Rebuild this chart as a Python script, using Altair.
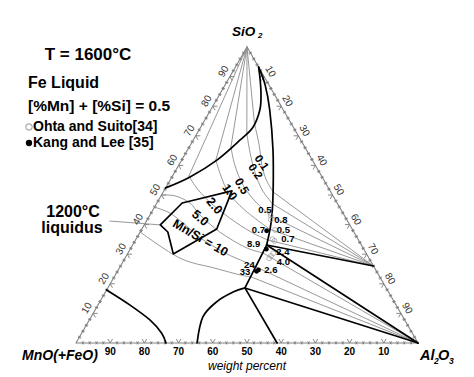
import altair as alt
import pandas as pd
import numpy as np

# ---------------- data (wt%) ----------------
# phase boundaries at 1600 C, given as (SiO2, Al2O3) wt%; MnO = rest
silica_liq_SiO2 = [52.4, 56.1, 61.8, 68.6, 73.0, 78.7, 83.8, 88.9, 93.2]
silica_liq_Al2O3 = [0.0, 5.3, 10.3, 13.7, 15.3, 14.4, 12.2, 9.4, 6.8]
mullite_liq_SiO2 = [93.2, 87.2, 78.7, 65.2, 51.7, 43.2, 38.2, 33.1]
mullite_liq_Al2O3 = [6.8, 11.7, 17.3, 25.0, 31.8, 35.7, 37.6, 39.2]
alumina_liq_SiO2 = [33.1, 18.6]
alumina_liq_Al2O3 = [39.2, 40.1]
galaxite_liq_SiO2 = [18.6, 17.2, 14.0, 8.8, 0.0]
galaxite_liq_Al2O3 = [40.1, 37.3, 34.2, 32.7, 35.4]
mno_liq_SiO2 = [17.9, 12.8, 7.8, 3.4, 0.0]
mno_liq_Al2O3 = [0.0, 9.4, 17.7, 23.3, 26.3]

# solid phases (SiO2, Al2O3)
solids = {"SiO2": (100.0, 0.0), "mullite": (26.0, 74.0),
          "Al2O3": (0.0, 100.0), "galaxite": (0.0, 58.8)}
# three-phase triangle edges: liquid corner -> solid
tri_liq_SiO2 = [33.1, 33.1, 18.6, 18.6]
tri_liq_Al2O3 = [39.2, 39.2, 40.1, 40.1]
tri_solid = ["mullite", "Al2O3", "Al2O3", "galaxite"]

# 1200 C liquidus outline
liq1200_SiO2 = [47.3, 51.4, 38.5, 30.1, 37.5, 39.9, 47.3]
liq1200_Al2O3 = [7.4, 19.9, 21.9, 13.4, 8.1, 4.7, 7.4]
pointer_SiO2 = [41.2, 39.9]
pointer_Al2O3 = [-10.7, 4.7]

# iso Mn/Si curves (liquid part) and their tie lines
iso_names = ["0.1", "0.2", "0.5", "1.0", "2.0", "5.0", "10", "30"]
iso_SiO2 = [
    [74.0, 66.9, 60.1, 55.1, 51.0],
    [70.9, 64.5, 57.8, 51.7, 47.0],
    [66.2, 60.1, 53.4, 48.0, 42.9],
    [61.8, 56.4, 50.7, 44.9, 38.5],
    [56.4, 51.7, 46.6, 40.9, 36.8, 34.8],
    [50.0, 49.7, 47.3, 43.2, 37.5, 32.4, 30.4],
    [45.9, 43.9, 39.9, 35.5, 30.4, 27.4, 25.7],
    [37.5, 28.7, 25.3, 23.0, 22.3],
]
iso_Al2O3 = [
    [15.2, 20.1, 24.3, 28.1, 32.2],
    [14.5, 18.6, 23.4, 28.6, 34.0],
    [12.2, 16.4, 22.1, 28.3, 35.5],
    [10.0, 14.2, 19.3, 26.9, 37.3],
    [4.8, 9.9, 16.8, 26.1, 33.9, 38.7],
    [0.0, 4.1, 9.7, 14.7, 23.3, 33.2, 39.5],
    [0.0, 5.5, 12.0, 18.6, 28.4, 35.7, 39.8],
    [0.0, 16.0, 27.9, 36.5, 40.1],
]
iso_start = ["SiO2", "SiO2", "SiO2", "SiO2", "SiO2", "", "", ""]
iso_end = ["mullite", "mullite", "mullite", "mullite", "mullite", "Al2O3", "Al2O3", "Al2O3"]

# curve labels
clab_text = ["0.1", "0.2", "0.5", "1.0", "2.0", "5.0", "Mn/Si = 10"]
clab_SiO2 = [60.8, 57.8, 53.0, 51.0, 46.3, 42.2, 35.5]
clab_Al2O3 = [23.7, 23.4, 22.0, 19.5, 17.3, 15.2, 18.6]
clab_angle = [55, 55, 60, 55, 50, 40, 30]
clab_size = [11.5, 11.5, 12, 12, 12.5, 12.5, 12.5]

# measured slags
ohta_SiO2 = [43.2, 41.7, 38.2, 35.1, 34.5, 30.3, 29.4, 28.6]
ohta_Al2O3 = [35.3, 36.1, 39.1, 39.9, 40.8, 42.5, 42.3, 42.2]
kang_SiO2 = [37.9, 31.7, 24.7, 24.2]
kang_Al2O3 = [36.8, 39.8, 41.0, 40.7]
plab_text = ["0.5", "0.8", "0.7", "0.5", "0.7", "8.9", "2.4", "4.0", "2.6", "24", "33"]
plab_SiO2 = [44.9, 41.6, 38.3, 38.3, 35.3, 33.3, 30.6, 27.5, 24.8, 26.4, 24.0]
plab_Al2O3 = [32.8, 39.1, 34.2, 41.5, 44.3, 35.3, 45.2, 46.9, 44.6, 37.5, 37.4]

tick_labels = [10, 20, 30, 40, 50, 60, 70, 80, 90]

# ---------------- helpers ----------------
S3 = np.sqrt(3) / 2
FONT = "Liberation Sans"
OX, OY = 76, 47


def to_xy(df):
    df = df.copy()
    df["X"] = df["Al2O3"] + df["SiO2"] / 2
    df["Y"] = df["SiO2"] * S3
    return df


def path_df(groups):
    rows = []
    for g, (s, a) in groups.items():
        for i, (si, al) in enumerate(zip(s, a)):
            rows.append({"g": g, "o": i, "SiO2": si, "Al2O3": al})
    return to_xy(pd.DataFrame(rows))


xs = alt.Scale(domain=[0, 100], nice=False, zero=False)
ys = alt.Scale(domain=[0, 100 * S3], nice=False, zero=False)
X = alt.X("X:Q", scale=xs, axis=None)
Y = alt.Y("Y:Q", scale=ys, axis=None)


def lines(df, color, width, interp="linear"):
    return alt.Chart(df).mark_line(color=color, strokeWidth=width, interpolate=interp,
                                   strokeCap="round", strokeJoin="round").encode(
        x=X, y=Y, detail="g:N", order="o:Q")


def note(text, px, py, size, weight="bold", style="normal", align="left", color="black"):
    return alt.Chart(pd.DataFrame({"t": [text]})).mark_text(
        font=FONT, fontSize=size, fontWeight=weight, fontStyle=style, align=align,
        baseline="middle", color=color).encode(
        x=alt.value(px - OX), y=alt.value(py - OY), text="t:N")


# ---------------- frame and ticks ----------------
frame = path_df({"f": ([0, 100, 0, 0], [0, 0, 100, 0])})

trows = []
for v in range(2, 100, 2):
    major = v % 10 == 0
    bases = [((v, 0.0), [(0.5, S3), (-0.5, S3)]),
             ((v / 2, v * S3), [(1.0, 0.0), (0.5, -S3)]),
             ((100 - v / 2, v * S3), [(-1.0, 0.0), (-0.5, -S3)])]
    for (bx, by), dirs in bases:
        for dx, dy in dirs:
            if major:
                a, b = 0.0, 1.35
            else:
                a, b = -0.45, 0.55
            trows.append({"X": bx + a * dx, "Y": by + a * dy,
                          "X2": bx + b * dx, "Y2": by + b * dy})
ticks = alt.Chart(pd.DataFrame(trows)).mark_rule(color="#7a7a7a", strokeWidth=0.9).encode(
    x=X, y=Y, x2="X2:Q", y2="Y2:Q")

lrows = []
for v in tick_labels:
    lrows.append({"t": str(v), "X": 100 - v, "Y": -2.7, "ang": 0, "side": "b"})
    lrows.append({"t": str(v), "X": v / 2 - 1.8, "Y": v * S3 + 1.5, "ang": 300, "side": "l"})
    lrows.append({"t": str(v), "X": 50 + v / 2 + 1.8, "Y": (100 - v) * S3 + 1.5, "ang": 60, "side": "r"})
ldf = pd.DataFrame(lrows)
bottom_lab = alt.Chart(ldf[ldf.side == "b"]).mark_text(
    font=FONT, fontSize=10, fontWeight="bold", baseline="middle", color="black").encode(
    x=X, y=Y, text="t:N")
side_lab = alt.Chart(ldf[ldf.side != "b"]).mark_text(
    font=FONT, fontSize=10, baseline="middle", color="#333").encode(
    x=X, y=Y, text="t:N", angle=alt.Angle("ang:Q", scale=None))

# ---------------- iso curves ----------------
curve_groups = {n: (s, a) for n, s, a in zip(iso_names, iso_SiO2, iso_Al2O3)}
iso_curves = lines(path_df(curve_groups), "#8c8c8c", 0.9, "cardinal")
tie_groups = {}
for n, s, a, st, en in zip(iso_names, iso_SiO2, iso_Al2O3, iso_start, iso_end):
    if st:
        tie_groups[n + "s"] = ([solids[st][0], s[0]], [solids[st][1], a[0]])
    if en:
        tie_groups[n + "e"] = ([s[-1], solids[en][0]], [a[-1], solids[en][1]])
iso_ties = lines(path_df(tie_groups), "#8c8c8c", 0.9)
pointer = lines(path_df({"p": (pointer_SiO2, pointer_Al2O3)}), "#8c8c8c", 0.9)

# ---------------- phase boundaries ----------------
bcurves = lines(path_df({
    "sil": (silica_liq_SiO2, silica_liq_Al2O3),
    "mul": (mullite_liq_SiO2, mullite_liq_Al2O3),
    "gal": (galaxite_liq_SiO2, galaxite_liq_Al2O3),
    "mno": (mno_liq_SiO2, mno_liq_Al2O3)}), "black", 1.7, "cardinal")
straight = {"alu": (alumina_liq_SiO2, alumina_liq_Al2O3),
            "l1200": (liq1200_SiO2, liq1200_Al2O3)}
for i, (s, a, so) in enumerate(zip(tri_liq_SiO2, tri_liq_Al2O3, tri_solid)):
    straight["t%d" % i] = ([s, solids[so][0]], [a, solids[so][1]])
blines = lines(path_df(straight), "black", 1.7)

# ---------------- labels on curves ----------------
cl = to_xy(pd.DataFrame({"t": clab_text, "SiO2": clab_SiO2, "Al2O3": clab_Al2O3,
                         "ang": clab_angle, "fs": clab_size}))
curve_lab = alt.Chart(cl).mark_text(font=FONT, fontWeight="bold", baseline="middle",
                                    color="black").encode(
    x=X, y=Y, text="t:N", angle=alt.Angle("ang:Q", scale=None),
    size=alt.Size("fs:Q", scale=None))

# ---------------- data points ----------------
ohta = alt.Chart(to_xy(pd.DataFrame({"SiO2": ohta_SiO2, "Al2O3": ohta_Al2O3}))).mark_point(
    shape="circle", filled=False, color="#9a9a9a", strokeWidth=1, size=24).encode(x=X, y=Y)
kang = alt.Chart(to_xy(pd.DataFrame({"SiO2": kang_SiO2, "Al2O3": kang_Al2O3}))).mark_point(
    shape="circle", filled=True, color="black", opacity=1, size=24).encode(x=X, y=Y)
pl = to_xy(pd.DataFrame({"t": plab_text, "SiO2": plab_SiO2, "Al2O3": plab_Al2O3}))
point_lab = alt.Chart(pl).mark_text(font=FONT, fontSize=9.5, fontWeight="bold",
                                    baseline="middle", color="black").encode(x=X, y=Y, text="t:N")

# ---------------- annotations ----------------
notes = [
    note("T = 1600°C", 88, 55, 17, align="center"),
    note("Fe Liquid", 28, 83, 16),
    note("[%Mn] + [%Si] = 0.5", 28, 106, 15.5),
    note("Ohta and Suito[34]", 33, 127, 14),
    note("Kang and Lee [35]", 33, 143, 14),
    note("1200°C", 73, 212, 16, align="center"),
    note("liquidus", 72, 228, 16, align="center"),
    note("SiO", 232, 32, 13.5, style="italic"),
    note("2", 258, 36, 8, style="italic"),
    note("MnO(+FeO)", 60, 356, 14, style="italic", align="center"),
    note("Al", 420, 356, 14.5, style="italic"),
    note("2", 434, 361, 8.5, style="italic"),
    note("O", 438, 356, 14.5, style="italic"),
    note("3", 449, 361, 8.5, style="italic"),
    note("weight percent", 247, 366, 12, weight="normal", style="italic", align="center"),
]
leg_open = alt.Chart(pd.DataFrame({"a": [0]})).mark_point(
    shape="circle", filled=False, color="#8a8a8a", strokeWidth=1.2, size=40).encode(
    x=alt.value(29 - OX), y=alt.value(127 - OY))
leg_fill = alt.Chart(pd.DataFrame({"a": [0]})).mark_point(
    shape="circle", filled=True, color="black", opacity=1, size=40).encode(
    x=alt.value(29 - OX), y=alt.value(143 - OY))

chart = alt.layer(
    lines(frame, "#808080", 1.1), ticks, iso_ties, iso_curves, pointer,
    bcurves, blines, ohta, kang, curve_lab, point_lab, bottom_lab, side_lab,
    leg_open, leg_fill, *notes
).properties(
    width=342, height=296, autosize="none",
    padding={"left": OX, "top": OY, "right": 474 - OX - 342, "bottom": 377 - OY - 296},
    background="white"
).configure_view(stroke=None)

chart.save("out.html", embed_options={"renderer": "svg", "actions": False})
